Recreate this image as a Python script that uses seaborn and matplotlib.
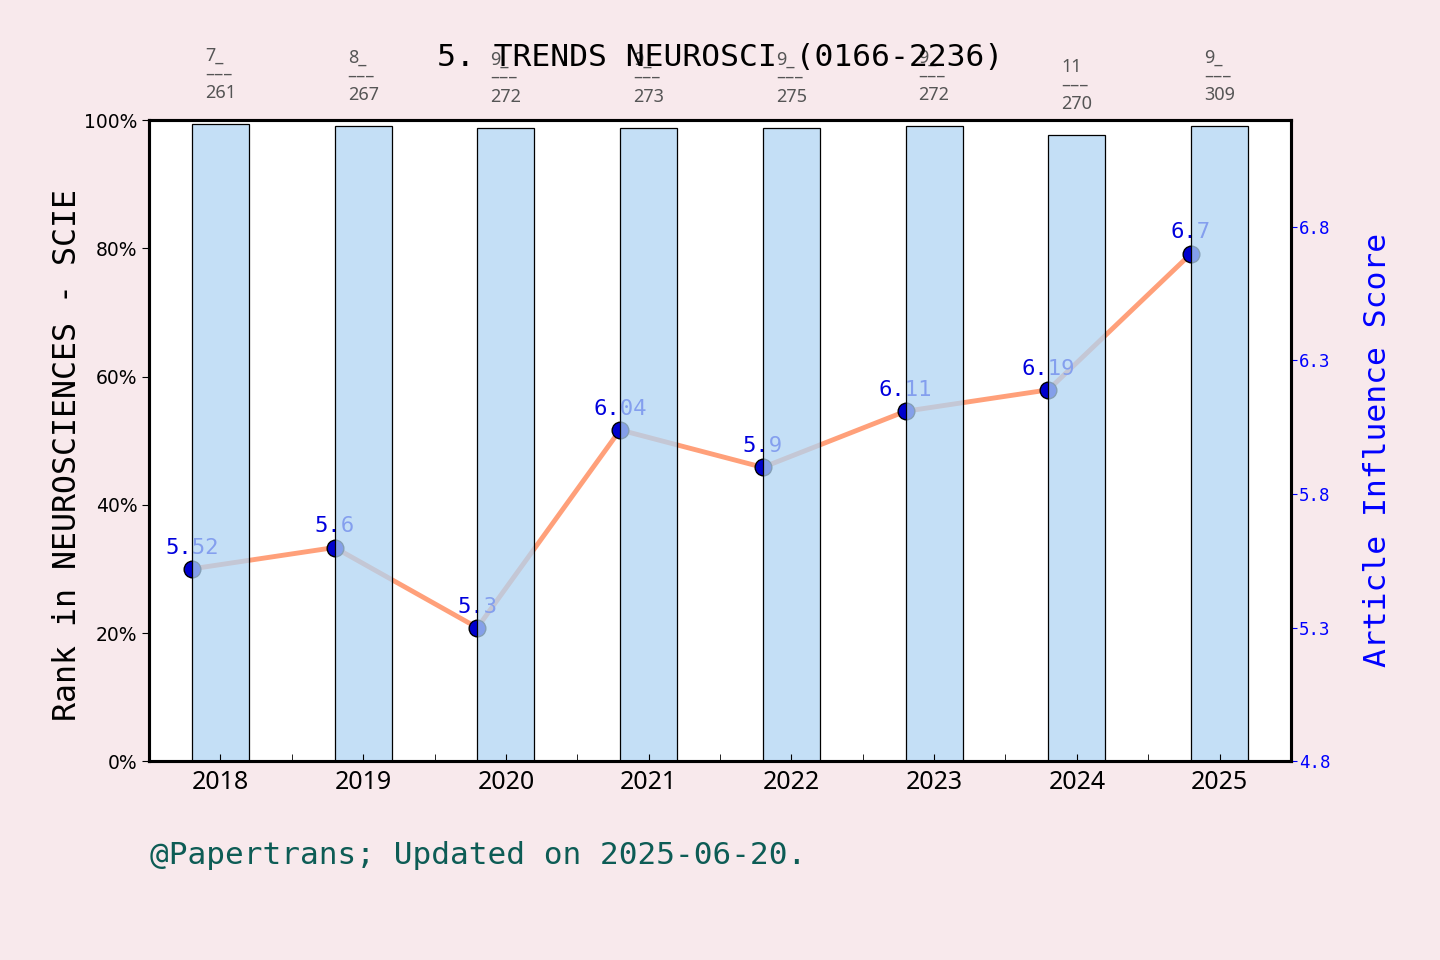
import numpy as np
import matplotlib
matplotlib.use("Agg")
import matplotlib.pyplot as plt
import seaborn as sns
from matplotlib.ticker import PercentFormatter, FixedLocator, FormatStrFormatter

# data
years = ["2018", "2019", "2020", "2021", "2022", "2023", "2024", "2025"]
rank_share = [0.993, 0.990, 0.987, 0.987, 0.987, 0.990, 0.976, 0.990]
ranks = ["7_", "8_", "9_", "9_", "9_", "9_", "11", "9_"]
totals = [261, 267, 272, 273, 275, 272, 270, 309]
ais = [5.52, 5.6, 5.3, 6.04, 5.9, 6.11, 6.19, 6.7]

mono = "DejaVu Sans Mono"
bg = "#f8e9ec"

fig = plt.figure(figsize=(14.4, 9.6), dpi=100, facecolor=bg)
ax = fig.add_axes([0.1035, 0.207, 0.793, 0.668])
ax2 = ax.twinx()

# bars sit on top of the line (the line shows through them)
ax.set_zorder(2)
ax.patch.set_visible(False)
ax2.patch.set_visible(True)
ax2.patch.set_facecolor("white")

sns.barplot(x=years, y=rank_share, ax=ax, width=0.4, color="#b1d5f4",
            edgecolor="black", linewidth=0.9, saturation=1)
for p in ax.patches:
    p.set_facecolor((0.694, 0.835, 0.957, 0.75))
    p.set_edgecolor("black")

ax.set_xlim(-0.5, len(years) - 0.5)
ax.set_ylim(0, 1)
ax.yaxis.set_major_locator(FixedLocator(np.arange(0, 1.01, 0.2)))
ax.yaxis.set_major_formatter(PercentFormatter(1.0, decimals=0))
ax.set_ylabel("Rank in NEUROSCIENCES - SCIE", fontsize=22.8, family=mono)
ax.yaxis.set_label_coords(-0.058, 0.477)
ax.set_xlabel("")
ax.tick_params(axis="y", direction="out", length=5, labelsize=13.5)
ax.tick_params(axis="x", direction="in", length=5, labelsize=18, pad=6)
ax.xaxis.set_minor_locator(FixedLocator(np.arange(len(years) - 1) + 0.5))
ax.tick_params(axis="x", which="minor", direction="in", length=5)
for lbl in ax.get_xticklabels():
    lbl.set_family("Noto Sans")

# rank / total notes above the bars
for i, (r, t, h) in enumerate(zip(ranks, totals, rank_share)):
    ax.text(i, h + 0.035, f"{r}\n–––\n{t}", ha="center", va="bottom",
            multialignment="left", fontsize=13, color="#555555",
            family="Noto Sans", linespacing=1.05, clip_on=False)

# article influence score line, drawn at the left edge of each bar
xs = np.arange(len(years)) - 0.2
sns.lineplot(x=xs, y=ais, ax=ax2, color="#ffa07a", linewidth=3.5,
             marker="o", markersize=12, markerfacecolor="#0000cd",
             markeredgecolor="black", markeredgewidth=1)
for x, v in zip(xs, ais):
    ax2.annotate(f"{v}", (x, v), xytext=(0, 8), textcoords="offset points",
                 ha="center", va="bottom", fontsize=16, color="#0000dd", family=mono)

ax2.set_ylim(4.8, 7.2)
ax2.yaxis.set_major_locator(FixedLocator([4.8, 5.3, 5.8, 6.3, 6.8]))
ax2.yaxis.set_major_formatter(FormatStrFormatter("%.1f"))
ax2.tick_params(axis="y", direction="out", length=4, labelsize=12.5,
                colors="blue", pad=2)
for lbl in ax2.get_yticklabels():
    lbl.set_family(mono)
ax2.set_ylabel("Article Influence Score", fontsize=22.6, family=mono, color="blue")
ax2.yaxis.set_label_coords(1.063, 0.485)

for a in (ax, ax2):
    for s in a.spines.values():
        s.set_linewidth(2.2)
        s.set_color("black")

fig.text(0.5, 0.94, "5. TRENDS NEUROSCI (0166-2236)", ha="center", va="center",
         fontsize=22.6, family=mono, color="black")
fig.text(0.104, 0.109, "@Papertrans; Updated on 2025-06-20.", ha="left",
         va="center", fontsize=22.4, family=mono, color="#0d5c55")

fig.savefig("out.png", dpi=100, facecolor=bg)
